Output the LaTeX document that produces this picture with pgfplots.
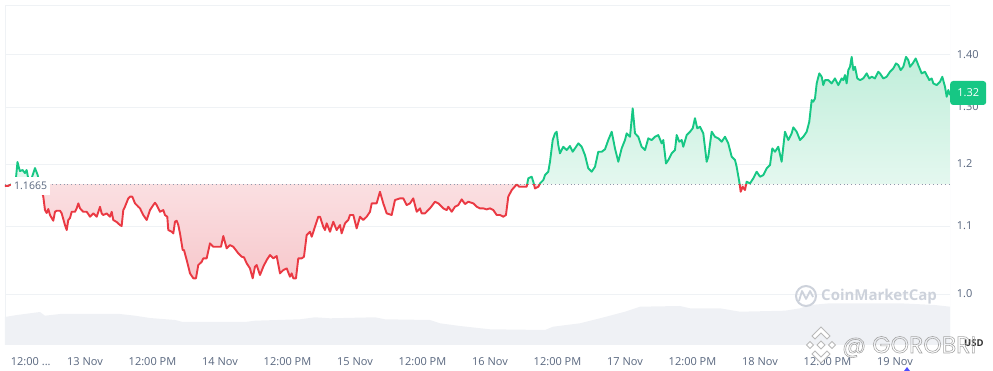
\documentclass[border=0pt]{standalone}
\usepackage{fontspec}
\setmainfont{Open Sans}
\newfontfamily\wmfont{Poppins}
\usepackage{pgfplots}
\pgfplotsset{compat=1.18}
\usepackage{pgfplotstable}
\definecolor{cmcgreen}{HTML}{16C784}
\definecolor{cmcred}{HTML}{EA3943}
\definecolor{gridc}{HTML}{EFF2F5}
\definecolor{txt}{HTML}{58667E}
\definecolor{volc}{HTML}{EFF1F5}
\definecolor{gfill}{HTML}{C0EEDA}
\definecolor{rfill}{HTML}{F7C8CC}
\definecolor{wm}{HTML}{CDD2DB}
\definecolor{dotc}{HTML}{8F99AB}

\pgfplotstableread{
h v
-14.22 1.1636
-13.69 1.1636
-12.98 1.1668
-12.27 1.1767
-12.00 1.2034
-11.73 1.1933
-11.56 1.1883
-11.09 1.1900
-10.67 1.1849
-10.37 1.1900
-10.04 1.1734
-9.69 1.1701
-9.30 1.1816
-8.89 1.1933
-8.41 1.1816
-8.00 1.1636
-7.41 1.1463
-7.11 1.1250
-6.81 1.1203
-6.52 1.1266
-6.22 1.1172
-5.92 1.1125
-5.64 1.1083
-5.33 1.1223
-5.03 1.1239
-4.44 1.1239
-4.14 1.1198
-3.56 1.1016
-3.25 1.0939
-2.97 1.1094
-2.67 1.1125
-2.36 1.1223
-1.78 1.1223
-1.48 1.1277
-1.19 1.1356
-0.89 1.1277
-0.30 1.1223
0.30 1.1223
0.59 1.1187
0.89 1.1146
1.48 1.1198
2.08 1.1146
2.67 1.1302
2.97 1.1198
3.25 1.1172
3.86 1.1198
4.44 1.1146
4.75 1.1223
5.03 1.1094
5.64 1.1063
6.22 1.1016
6.52 1.1001
6.81 1.1250
7.11 1.1303
7.70 1.1436
8.00 1.1463
8.41 1.1463
8.89 1.1356
9.19 1.1329
9.48 1.1303
9.78 1.1277
10.36 1.1172
10.97 1.1094
11.56 1.1250
12.14 1.1329
12.44 1.1366
12.75 1.1329
13.33 1.1223
13.92 1.1250
14.22 1.1172
14.63 1.1146
14.81 1.0939
15.41 1.0913
15.70 1.0888
16.00 1.1068
16.30 1.1083
16.59 1.1016
16.89 1.0888
17.37 1.0637
17.60 1.0637
18.08 1.0488
18.67 1.0294
19.26 1.0223
19.73 1.0223
20.14 1.0415
20.75 1.0463
21.03 1.0513
21.63 1.0513
22.22 1.0737
22.81 1.0686
23.70 1.0686
24.18 1.0686
24.59 1.0848
25.19 1.0662
25.78 1.0711
26.36 1.0686
27.25 1.0588
27.86 1.0537
28.27 1.0528
28.75 1.0440
29.33 1.0366
29.81 1.0223
30.22 1.0391
30.52 1.0415
30.81 1.0342
31.11 1.0270
31.70 1.0391
32.30 1.0488
32.89 1.0562
33.48 1.0513
34.08 1.0547
34.67 1.0294
35.26 1.0342
35.86 1.0366
36.44 1.0246
36.75 1.0294
37.03 1.0223
37.51 1.0223
37.92 1.0513
38.52 1.0513
38.93 1.0537
39.41 1.0863
40.00 1.0913
40.30 1.0837
40.89 1.0990
41.48 1.1146
41.78 1.1146
42.36 1.0990
42.67 1.0939
42.97 1.1042
43.56 1.0913
44.14 1.1068
44.74 1.0939
45.33 1.1016
45.63 1.0888
46.22 1.1042
46.81 1.1094
47.11 1.1172
47.70 1.1172
48.30 1.0965
48.89 1.1146
49.47 1.1094
50.08 1.1146
50.67 1.1223
50.97 1.1356
51.85 1.1356
52.44 1.1543
53.03 1.1356
53.63 1.1198
54.52 1.1172
55.11 1.1409
56.00 1.1436
56.59 1.1436
57.19 1.1329
57.78 1.1356
58.36 1.1436
58.97 1.1223
59.56 1.1277
59.86 1.1198
60.44 1.1198
61.33 1.1277
62.22 1.1382
62.81 1.1356
63.70 1.1277
64.30 1.1250
64.59 1.1303
65.19 1.1223
65.78 1.1303
66.36 1.1329
66.97 1.1420
67.56 1.1345
68.14 1.1382
69.03 1.1356
69.63 1.1303
70.22 1.1277
70.81 1.1277
71.41 1.1261
72.00 1.1277
72.59 1.1250
73.19 1.1172
73.78 1.1172
74.36 1.1146
74.84 1.1172
75.25 1.1463
75.86 1.1570
76.44 1.1630
76.75 1.1660
77.21 1.1624
77.92 1.1624
78.52 1.1624
78.81 1.1762
79.41 1.1789
79.70 1.1706
80.00 1.1597
80.59 1.1624
80.89 1.1679
81.48 1.1734
81.78 1.1816
82.36 1.1872
82.67 1.2039
83.15 1.2411
83.56 1.2528
83.85 1.2557
84.14 1.2324
84.44 1.2181
85.03 1.2295
85.63 1.2238
86.22 1.2307
86.70 1.2209
87.11 1.2267
87.70 1.2353
88.30 1.2295
88.89 1.2152
89.47 1.1928
90.08 1.1872
90.67 1.1955
91.25 1.2209
91.86 1.2209
92.44 1.2250
93.03 1.2411
93.64 1.2557
94.22 1.2267
94.81 1.2039
95.41 1.2267
96.00 1.2411
96.30 1.2528
96.89 1.2469
97.37 1.2975
97.78 1.2528
98.36 1.2469
98.96 1.2295
99.56 1.2238
100.14 1.2441
100.74 1.2411
101.33 1.2469
101.92 1.2498
102.52 1.2353
102.81 1.2411
103.29 1.2010
103.70 1.2068
104.30 1.2181
104.89 1.2238
105.19 1.2498
105.65 1.2382
106.08 1.2411
106.36 1.2295
106.97 1.2498
107.56 1.2557
108.04 1.2617
108.44 1.2797
108.85 1.2617
109.33 1.2645
109.92 1.2528
110.52 1.2039
110.81 1.2124
111.41 1.2557
112.00 1.2469
112.59 1.2441
113.19 1.2382
113.78 1.2469
114.36 1.2353
114.97 1.2124
115.56 1.2068
115.85 1.1955
116.32 1.1706
116.57 1.1543
116.92 1.1624
117.33 1.1570
117.63 1.1706
118.22 1.1679
118.81 1.1762
119.41 1.1872
120.00 1.1789
120.59 1.1816
121.19 1.1928
121.78 1.1983
122.19 1.2267
122.67 1.2209
123.25 1.2295
123.85 1.2039
124.44 1.2557
125.03 1.2411
125.63 1.2528
125.92 1.2634
126.52 1.2557
127.11 1.2411
127.70 1.2469
128.30 1.2557
128.76 1.2733
129.19 1.3127
129.47 1.3096
129.78 1.3158
130.08 1.3438
130.54 1.3628
130.97 1.3563
131.25 1.3406
131.56 1.3500
132.14 1.3500
132.74 1.3438
133.33 1.3532
133.92 1.3406
134.52 1.3532
134.81 1.3500
135.11 1.3596
135.41 1.3438
135.70 1.3691
136.00 1.3754
136.30 1.3947
136.59 1.3691
136.89 1.3754
137.30 1.3532
137.78 1.3500
138.36 1.3532
138.97 1.3628
139.43 1.3532
139.86 1.3563
140.44 1.3532
141.03 1.3659
141.33 1.3628
141.92 1.3532
142.52 1.3563
143.11 1.3659
143.70 1.3723
144.18 1.3820
144.59 1.3788
145.01 1.3691
145.47 1.3754
145.96 1.3947
146.36 1.3885
146.67 1.3754
147.15 1.3820
147.68 1.3917
148.14 1.3788
148.74 1.3628
149.33 1.3659
149.63 1.3596
150.10 1.3500
150.52 1.3532
150.81 1.3438
151.41 1.3406
152.00 1.3469
152.41 1.3563
152.89 1.3374
153.19 1.3188
153.48 1.3313
153.78 1.3219
}\pricedata

\pgfplotstableread{
h vol
-14.22 28
-12.09 30
-8.00 33
-7.11 29.3
-4.44 31
6.22 31
8.89 29.3
11.56 27
16.00 25
17.42 23
28.44 23
30.22 24.3
38.22 25.7
40.89 27.7
43.56 26.7
51.56 27.7
53.33 25.7
61.33 25
63.11 21.7
66.67 19
72.00 15.7
81.78 15
83.20 18.3
88.00 21.7
91.56 26.7
96.00 33.3
98.67 38.3
105.78 39
107.56 36.7
112.89 36.7
116.44 33.3
124.44 34.3
127.11 36.7
128.89 40
132.44 41.7
144.89 41.7
151.11 40
153.78 38.3
}\voldata

\begin{document}
\begin{tikzpicture}[x=1pt,y=1pt]
\path[use as bounding box] (0,0) rectangle (993,371);
% volume
\begin{axis}[at={(5pt,26pt)}, anchor=south west, scale only axis,
  width=945pt, height=340pt, xmin=-14.22, xmax=153.78, ymin=0, ymax=340, hide axis]
\addplot[fill=volc, draw=none] table[x=h,y=vol]{\voldata} \closedcycle;
\end{axis}
% price
\begin{axis}[at={(5pt,26pt)}, anchor=south west, scale only axis,
  width=945pt, height=340pt, ymode=log,
  xmin=-14.22, xmax=153.78, ymin=0.931, ymax=1.5,
  axis line style={draw=none}, major tick length=0pt, minor tick length=0pt,
  ytick={1.0,1.1,1.2,1.3,1.4}, yticklabels={1.0,1.1,1.2,1.30,1.40},
  yticklabel pos=right, ymajorgrids, grid style={gridc, line width=0.9pt},
  xtick={0,12,24,36,48,60,72,84,96,108,120,132,144},
  xticklabels={13 Nov,12:00 PM,14 Nov,12:00 PM,15 Nov,12:00 PM,16 Nov,12:00 PM,17 Nov,12:00 PM,18 Nov,12:00 PM,19 Nov},
  tick label style={font=\fontsize{11}{13}\selectfont, text=txt},
  yticklabel style={anchor=west, inner sep=0pt, xshift=6.7pt},
  xticklabel style={anchor=base, inner sep=0pt, yshift=-20.5pt},
]
\draw[gridc, line width=0.9pt] (rel axis cs:0,0) -- (rel axis cs:0,1) -- (rel axis cs:1,1) -- (rel axis cs:1,0);
\begin{scope}
\clip (axis cs:-20,1.1665) rectangle (axis cs:160,1.6);
\addplot[top color=gfill, bottom color=white, draw=none] table[x=h,y=v]{\pricedata} -- (axis cs:153.78,1.1665) -- (axis cs:-14.22,1.1665) -- cycle;
\end{scope}
\begin{scope}
\clip (axis cs:-20,0.9) rectangle (axis cs:160,1.1665);
\addplot[top color=white, bottom color=rfill, draw=none] table[x=h,y=v]{\pricedata} -- (axis cs:153.78,1.1665) -- (axis cs:-14.22,1.1665) -- cycle;
\end{scope}
\draw[dotc, line width=0.9pt, dash pattern=on 0.9pt off 3pt] (axis cs:-14.22,1.1665) -- (axis cs:153.78,1.1665);
\begin{scope}
\clip (axis cs:-20,1.1665) rectangle (axis cs:160,1.6);
\addplot[cmcgreen, line width=1.9pt, line join=round] table[x=h,y=v]{\pricedata};
\end{scope}
\begin{scope}
\clip (axis cs:-20,0.9) rectangle (axis cs:160,1.1665);
\addplot[cmcred, line width=1.9pt, line join=round] table[x=h,y=v]{\pricedata};
\end{scope}
\end{axis}
% labels
\node[anchor=base west, inner sep=0pt, font=\fontsize{11}{13}\selectfont, text=txt] at (10.7,5.5) {12:00 ...};
\node[fill=white, anchor=west, inner xsep=3pt, inner ysep=5pt, font=\fontsize{10.5}{12}\selectfont, text=txt] at (11,185) {1.1665};
\node[fill=cmcgreen, text=white, rounded corners=3pt, anchor=west, minimum height=24pt, minimum width=36pt, inner sep=0pt, font=\fontsize{11}{13}\selectfont] at (950,278) {1.32};
% CoinMarketCap watermark
\draw[wm, line width=2pt] (806,75) circle (10);
\draw[wm, line width=1.8pt, line join=round] (799,70) -- (802,80) -- (806,72) -- (810,80) -- (813,74);
\node[anchor=west, inner sep=0pt, font=\bfseries\fontsize{15}{18}\selectfont, text=wm] at (821,74) {CoinMarketCap};
% USD
\node[anchor=base west, inner sep=0pt, font=\bfseries\fontsize{9.5}{11}\selectfont, text=black!80] at (964,24) {USD};
% blue marker
\fill[blue!70] (904,0) -- (907,4) -- (910,0) -- cycle;
% Binance watermark
\begin{scope}[gray!55, line width=0.9pt, fill=white]
\filldraw (821,26) +(0,4) -- +(4,0) -- +(0,-4) -- +(-4,0) -- cycle;
\filldraw (821,26) +(-9,9) -- +(0,18) -- +(9,9) -- +(6,6) -- +(0,12) -- +(-6,6) -- cycle;
\filldraw (821,26) +(-9,-9) -- +(0,-18) -- +(9,-9) -- +(6,-6) -- +(0,-12) -- +(-6,-6) -- cycle;
\filldraw (810,26) +(0,3.5) -- +(3.5,0) -- +(0,-3.5) -- +(-3.5,0) -- cycle;
\filldraw (832,26) +(0,3.5) -- +(3.5,0) -- +(0,-3.5) -- +(-3.5,0) -- cycle;
\end{scope}
\node[anchor=base west, inner sep=0pt, font=\wmfont\fontsize{23.5}{26}\selectfont, text=gray!70] at (842,18) {\special{pdf:literal direct 1 Tr 0.6 w}@ GOROBRI\special{pdf:literal direct 0 Tr}};
\end{tikzpicture}
\end{document}
